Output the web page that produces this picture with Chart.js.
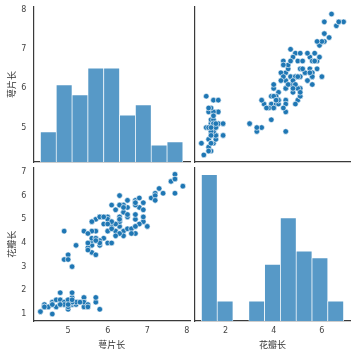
<!DOCTYPE html>
<html><head><meta charset="utf-8">
<script src="https://cdn.jsdelivr.net/npm/chart.js@4/dist/chart.umd.min.js"></script>
<style>
html,body{margin:0;padding:0;background:#fff;}
#wrap{position:relative;width:357px;height:357px;}
canvas{position:absolute;left:0;top:0;}
</style></head>
<body><div id="wrap">
<canvas id="c1" width="357" height="357"></canvas>
<canvas id="c2" width="357" height="357"></canvas>
<canvas id="c3" width="357" height="357"></canvas>
<canvas id="c4" width="357" height="357"></canvas>
</div>
<script>
// ---- data (iris: sepal length / petal length) ----
const sepalLength = [5.1,4.9,4.7,4.6,5.0,5.4,4.6,5.0,4.4,4.9,5.4,4.8,4.8,4.3,5.8,5.7,5.4,5.1,5.7,5.1,5.4,5.1,4.6,5.1,4.8,5.0,5.0,5.2,5.2,4.7,4.8,5.4,5.2,5.5,4.9,5.0,5.5,4.9,4.4,5.1,5.0,4.5,4.4,5.0,5.1,4.8,5.1,4.6,5.3,5.0,
7.0,6.4,6.9,5.5,6.5,5.7,6.3,4.9,6.6,5.2,5.0,5.9,6.0,6.1,5.6,6.7,5.6,5.8,6.2,5.6,5.9,6.1,6.3,6.1,6.4,6.6,6.8,6.7,6.0,5.7,5.5,5.5,5.8,6.0,5.4,6.0,6.7,6.3,5.6,5.5,5.5,6.1,5.8,5.0,5.6,5.7,5.7,6.2,5.1,5.7,
6.3,5.8,7.1,6.3,6.5,7.6,4.9,7.3,6.7,7.2,6.5,6.4,6.8,5.7,5.8,6.4,6.5,7.7,7.7,6.0,6.9,5.6,7.7,6.3,6.7,7.2,6.2,6.1,6.4,7.2,7.4,7.9,6.4,6.3,6.1,7.7,6.3,6.4,6.0,6.9,6.7,6.9,5.8,6.8,6.7,6.7,6.3,6.5,6.2,5.9];
const petalLength = [1.4,1.4,1.3,1.5,1.4,1.7,1.4,1.5,1.4,1.5,1.5,1.6,1.4,1.1,1.2,1.5,1.3,1.4,1.7,1.5,1.7,1.5,1.0,1.7,1.9,1.6,1.6,1.5,1.4,1.6,1.6,1.5,1.5,1.4,1.5,1.2,1.3,1.4,1.3,1.5,1.3,1.3,1.3,1.6,1.9,1.4,1.6,1.4,1.5,1.4,
4.7,4.5,4.9,4.0,4.6,4.5,4.7,3.3,4.6,3.9,3.5,4.2,4.0,4.7,3.6,4.4,4.5,4.1,4.5,3.9,4.8,4.0,4.9,4.7,4.3,4.4,4.8,5.0,4.5,3.5,3.8,3.7,3.9,5.1,4.5,4.5,4.7,4.4,4.1,4.0,4.4,4.6,4.0,3.3,4.2,4.2,4.2,4.3,3.0,4.1,
6.0,5.1,5.9,5.6,5.8,6.6,4.5,6.3,5.8,6.1,5.1,5.3,5.5,5.0,5.1,5.3,5.5,6.7,6.9,5.0,5.7,4.9,6.7,4.9,5.7,6.0,4.8,4.9,5.6,5.8,6.1,6.4,5.6,5.1,5.6,6.1,5.6,5.5,4.8,5.4,5.6,5.1,5.1,5.9,5.7,5.2,5.0,5.2,5.4,5.1];

const sepalEdges = [4.3,4.7,5.1,5.5,5.9,6.3,6.7,7.1,7.5,7.9];
const sepalCounts = [9,23,20,28,28,14,17,5,6];
const petalEdges = [1.0,1.6556,2.3111,2.9667,3.6222,4.2778,4.9333,5.5889,6.2444,6.9];
const petalCounts = [44,6,0,6,17,31,21,19,6];

const sepalTicks = [5,6,7,8];
const petalTicksY = [1,2,3,4,5,6,7];
const petalTicksX = [2,4,6];
const sepalLabel = '萼片长';
const petalLabel = '花瓣长';

// ---- styling / layout ----
const W = 357;
const PL = 33.3, PR = 190, QL = 194.3, QR = 350.7;
const T1 = 7, B1 = 162, T2 = 167.3, B2 = 321;
const sepalRange = [4.12, 8.08];
const petalRange = [0.705, 7.195];
const countMax = 46.2;
const dotColor = '#1f77b4';
const barColor = '#5799c7';
const spine = {display:true, color:'#3a3a3a', width:1.2};
const tickFont = {family:'DejaVu Sans', size:8};
const titleFont = {family:'Noto Sans CJK SC', size:9};
const tickColor = '#444';

function hist(edges, counts){
  return counts.map((c,i)=>({x:(edges[i]+edges[i+1])/2, y:c}));
}
function pts(xs, ys){ return xs.map((v,i)=>({x:v, y:ys[i]})); }

function fix(size, horiz){
  return function(s){
    if(horiz) s.height = size; else s.width = size;
    s.paddingLeft = s.paddingRight = s.paddingTop = s.paddingBottom = 0;
  };
}
function setTicks(vals){ return function(s){ s.ticks = vals.map(v=>({value:v})); }; }

function axis(opts){
  const o = {
    type:'linear', min:opts.range[0], max:opts.range[1], offset:false,
    grid:{display:false, drawTicks:false, tickLength:0},
    border:spine,
    afterFit: fix(opts.size, opts.horiz),
    ticks:{display:!!opts.ticks, font:tickFont, color:tickColor, padding: opts.horiz?5:7, maxRotation:0, autoSkip:false},
    title:{display:!!opts.title, text:opts.title||'', font:titleFont, color:'#333', padding:opts.horiz?{top:0,bottom:7.5}:{top:6,bottom:0}}
  };
  if(opts.ticks) o.afterBuildTicks = setTicks(opts.ticks);
  return o;
}

const base = {responsive:false, animation:false, devicePixelRatio:1,
  plugins:{legend:{display:false}, tooltip:{enabled:false}}, events:[]};

function pad(l,t,r,b){ return {padding:{left:l, top:t, right:r, bottom:b}}; }

const dot = {backgroundColor:dotColor, borderColor:'#ffffff', borderWidth:0.6, pointRadius:2.8};

// top-left: sepal histogram
new Chart(document.getElementById('c1'), {
  type:'bar',
  data:{datasets:[{data:hist(sepalEdges, sepalCounts), xAxisID:'x', yAxisID:'yc',
    backgroundColor:barColor, borderColor:'#ffffff', borderWidth:0.7, borderSkipped:'bottom',
    barPercentage:1, categoryPercentage:1, grouped:false}]},
  options:Object.assign({}, base, {
    layout: pad(0, T1, W-PR, W-B1),
    scales:{
      x: axis({range:sepalRange, horiz:true, size:0, ticks:null}),
      y: Object.assign(axis({range:sepalRange, horiz:false, size:PL, ticks:sepalTicks, title:sepalLabel}), {position:'left'}),
      yc: {type:'linear', min:0, max:countMax, display:false}
    }
  })
});

// top-right: petal (x) vs sepal (y)
new Chart(document.getElementById('c2'), {
  type:'scatter',
  data:{datasets:[Object.assign({data:pts(petalLength, sepalLength)}, dot)]},
  options:Object.assign({}, base, {
    layout: pad(QL, T1, W-QR, W-B1),
    scales:{
      x: axis({range:petalRange, horiz:true, size:0, ticks:null}),
      y: axis({range:sepalRange, horiz:false, size:0, ticks:null})
    }
  })
});

// bottom-left: sepal (x) vs petal (y)
new Chart(document.getElementById('c3'), {
  type:'scatter',
  data:{datasets:[Object.assign({data:pts(sepalLength, petalLength)}, dot)]},
  options:Object.assign({}, base, {
    layout: pad(0, T2, W-PR, 0),
    scales:{
      x: axis({range:sepalRange, horiz:true, size:W-B2, ticks:sepalTicks, title:sepalLabel}),
      y: axis({range:petalRange, horiz:false, size:PL, ticks:petalTicksY, title:petalLabel})
    }
  })
});

// bottom-right: petal histogram
new Chart(document.getElementById('c4'), {
  type:'bar',
  data:{datasets:[{data:hist(petalEdges, petalCounts), xAxisID:'x', yAxisID:'yc',
    backgroundColor:barColor, borderColor:'#ffffff', borderWidth:0.7, borderSkipped:'bottom',
    barPercentage:1, categoryPercentage:1, grouped:false}]},
  options:Object.assign({}, base, {
    layout: pad(QL, T2, W-QR, 0),
    scales:{
      x: axis({range:petalRange, horiz:true, size:W-B2, ticks:petalTicksX, title:petalLabel}),
      y: Object.assign(axis({range:petalRange, horiz:false, size:0, ticks:null}), {position:'left'}),
      yc: {type:'linear', min:0, max:countMax, display:false}
    }
  })
});
</script>
</body></html>
